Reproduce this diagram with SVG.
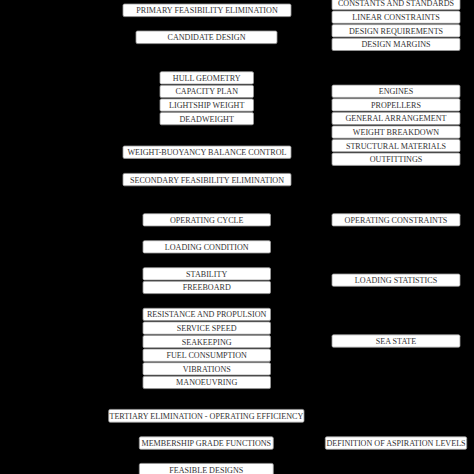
<svg xmlns="http://www.w3.org/2000/svg" width="474" height="474" viewBox="0 0 474 474">
<style>
.b{fill:#ffffff;stroke:#9a9a9a;stroke-width:0.8}
.t{font-family:"Liberation Serif","Times New Roman",serif;font-size:8.1px;fill:#333333;text-anchor:middle}
</style>
<rect x="0" y="0" width="474" height="474" fill="#000000"/>
<g id="connectors"></g>
<g id="primary"><rect class="b" x="123" y="4" width="168" height="12.6" rx="1.5"/><text class="t" x="207" y="13.1">PRIMARY FEASIBILITY ELIMINATION</text></g>
<g id="candidate"><rect class="b" x="136" y="31" width="141" height="12.6" rx="1.5"/><text class="t" x="206.5" y="40.1">CANDIDATE DESIGN</text></g>
<g id="constants"><rect class="b" x="332" y="-2.6" width="128" height="12.3" rx="1.5"/><text class="t" x="396" y="6.4">CONSTANTS AND STANDARDS</text></g>
<g id="linear"><rect class="b" x="332" y="11" width="128" height="12.3" rx="1.5"/><text class="t" x="396" y="20">LINEAR CONSTRAINTS</text></g>
<g id="requirements"><rect class="b" x="332" y="24.6" width="128" height="12.3" rx="1.5"/><text class="t" x="396" y="33.6">DESIGN REQUIREMENTS</text></g>
<g id="margins"><rect class="b" x="332" y="38.2" width="128" height="12.3" rx="1.5"/><text class="t" x="396" y="47.2">DESIGN MARGINS</text></g>
<g id="hull"><rect class="b" x="160" y="71.7" width="93.5" height="12.3" rx="1.5"/><text class="t" x="206.7" y="80.7">HULL GEOMETRY</text></g>
<g id="capacity"><rect class="b" x="160" y="85.3" width="93.5" height="12.3" rx="1.5"/><text class="t" x="206.7" y="94.3">CAPACITY PLAN</text></g>
<g id="lightship"><rect class="b" x="160" y="98.9" width="93.5" height="12.3" rx="1.5"/><text class="t" x="206.7" y="107.9">LIGHTSHIP WEIGHT</text></g>
<g id="deadweight"><rect class="b" x="160" y="112.5" width="93.5" height="12.3" rx="1.5"/><text class="t" x="206.7" y="121.5">DEADWEIGHT</text></g>
<g id="engines"><rect class="b" x="332" y="85.1" width="128" height="12.3" rx="1.5"/><text class="t" x="396" y="94.1">ENGINES</text></g>
<g id="propellers"><rect class="b" x="332" y="98.7" width="128" height="12.3" rx="1.5"/><text class="t" x="396" y="107.7">PROPELLERS</text></g>
<g id="arrangement"><rect class="b" x="332" y="112.3" width="128" height="12.3" rx="1.5"/><text class="t" x="396" y="121.3">GENERAL ARRANGEMENT</text></g>
<g id="weightbreakdown"><rect class="b" x="332" y="125.9" width="128" height="12.3" rx="1.5"/><text class="t" x="396" y="134.9">WEIGHT BREAKDOWN</text></g>
<g id="structural"><rect class="b" x="332" y="139.5" width="128" height="12.3" rx="1.5"/><text class="t" x="396" y="148.5">STRUCTURAL MATERIALS</text></g>
<g id="outfittings"><rect class="b" x="332" y="153.1" width="128" height="12.3" rx="1.5"/><text class="t" x="396" y="162.1">OUTFITTINGS</text></g>
<g id="balance"><rect class="b" x="123" y="146" width="168" height="12.4" rx="1.5"/><text class="t" x="207" y="155.1">WEIGHT-BUOYANCY BALANCE CONTROL</text></g>
<g id="secondary"><rect class="b" x="123" y="173.4" width="168" height="12.4" rx="1.5"/><text class="t" x="207" y="182.5">SECONDARY FEASIBILITY ELIMINATION</text></g>
<g id="cycle"><rect class="b" x="143" y="213.7" width="127.5" height="12.3" rx="1.5"/><text class="t" x="206.7" y="222.7">OPERATING CYCLE</text></g>
<g id="opconstraints"><rect class="b" x="332" y="213.7" width="128" height="12.3" rx="1.5"/><text class="t" x="396" y="222.7">OPERATING CONSTRAINTS</text></g>
<g id="loadingcondition"><rect class="b" x="143" y="240.7" width="127.5" height="12.3" rx="1.5"/><text class="t" x="206.7" y="249.7">LOADING CONDITION</text></g>
<g id="stability"><rect class="b" x="143" y="267.7" width="127.5" height="12.3" rx="1.5"/><text class="t" x="206.7" y="276.7">STABILITY</text></g>
<g id="freeboard"><rect class="b" x="143" y="281.3" width="127.5" height="12.3" rx="1.5"/><text class="t" x="206.7" y="290.3">FREEBOARD</text></g>
<g id="loadingstatistics"><rect class="b" x="332" y="274" width="128" height="12.3" rx="1.5"/><text class="t" x="396" y="283">LOADING STATISTICS</text></g>
<g id="resistance"><rect class="b" x="143" y="308.3" width="127.5" height="12.3" rx="1.5"/><text class="t" x="206.7" y="317.3">RESISTANCE AND PROPULSION</text></g>
<g id="speed"><rect class="b" x="143" y="321.9" width="127.5" height="12.3" rx="1.5"/><text class="t" x="206.7" y="330.9">SERVICE SPEED</text></g>
<g id="seakeeping"><rect class="b" x="143" y="335.5" width="127.5" height="12.3" rx="1.5"/><text class="t" x="206.7" y="344.5">SEAKEEPING</text></g>
<g id="fuel"><rect class="b" x="143" y="349.1" width="127.5" height="12.3" rx="1.5"/><text class="t" x="206.7" y="358.1">FUEL CONSUMPTION</text></g>
<g id="vibrations"><rect class="b" x="143" y="362.7" width="127.5" height="12.3" rx="1.5"/><text class="t" x="206.7" y="371.7">VIBRATIONS</text></g>
<g id="manoeuvring"><rect class="b" x="143" y="376.3" width="127.5" height="12.3" rx="1.5"/><text class="t" x="206.7" y="385.3">MANOEUVRING</text></g>
<g id="seastate"><rect class="b" x="332" y="334.8" width="128" height="12.4" rx="1.5"/><text class="t" x="396" y="343.9">SEA STATE</text></g>
<g id="tertiary"><rect class="b" x="108.7" y="409.4" width="195.3" height="12.8" rx="1.5"/><text class="t" x="206.4" y="418.7">TERTIARY ELIMINATION - OPERATING EFFICIENCY</text></g>
<g id="membership"><rect class="b" x="139.3" y="436.8" width="134" height="12.5" rx="1.5"/><text class="t" x="206.3" y="446">MEMBERSHIP GRADE FUNCTIONS</text></g>
<g id="aspiration"><rect class="b" x="325.3" y="436.8" width="141.4" height="12.5" rx="1.5"/><text class="t" x="396" y="446">DEFINITION OF ASPIRATION LEVELS</text></g>
<g id="feasible"><rect class="b" x="139.3" y="463.4" width="134" height="12.5" rx="1.5"/><text class="t" x="206.3" y="472.6">FEASIBLE DESIGNS</text></g>
</svg>
